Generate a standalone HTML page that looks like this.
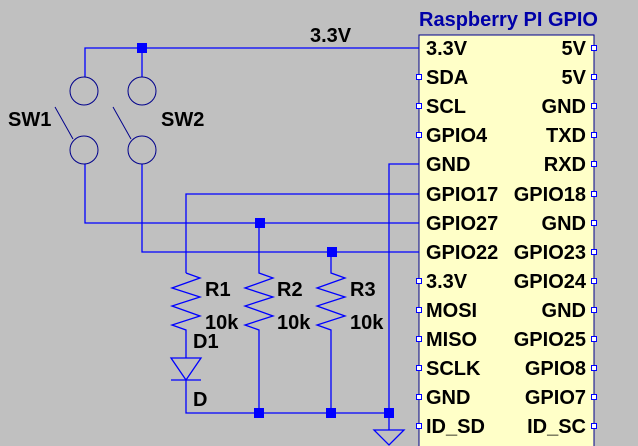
<!DOCTYPE html>
<html><head><style>html,body{margin:0;padding:0;background:#c0c0c0}svg{display:block}text{font-family:"Liberation Sans",Arial,sans-serif;font-weight:bold;font-size:20px;fill:#000}</style></head>
<body>
<svg width="638" height="446" xmlns="http://www.w3.org/2000/svg">
<rect width="638" height="446" fill="#c0c0c0"/>
<rect x="419" y="35" width="175" height="420" fill="#ffffc8" stroke="#00008b" stroke-width="1"/>
<text x="419" y="26" style="fill:#0000a8">Raspberry PI GPIO</text>
<g fill="none" stroke="#0000ff" stroke-width="1.3">
<polyline points="85,77 85,48 419,48"/>
<line x1="142" y1="48" x2="142" y2="77"/>
<polyline points="85,164 85,223 419,223"/>
<polyline points="142,164 142,252 419,252"/>
<polyline points="186,273 186,194 419,194"/>
<polyline points="389,430 389,164 419,164"/>
<polyline points="186,273 200,278 172,288 200,297 172,306 200,316 172,325 186,330 186,358"/>
<polyline points="259,223 259,273 273,278 245,288 273,297 245,306 273,316 245,325 259,330 259,413"/>
<polyline points="331,252 331,273 345,278 317,288 345,297 317,306 345,316 317,325 331,330 331,413"/>
<polygon points="171,358 201,358 186,380"/>
<line x1="171" y1="380" x2="201" y2="380"/>
<polyline points="186,380 186,413 389,413"/>
<polygon points="374,430 404,430 389,445"/>
</g>
<g fill="none" stroke="#00008b" stroke-width="1">
<circle cx="84" cy="91" r="14"/><circle cx="84" cy="150" r="14"/>
<circle cx="142" cy="91" r="14"/><circle cx="142" cy="150" r="14"/>
<line x1="55" y1="107" x2="73" y2="139"/><line x1="113" y1="107" x2="131" y2="139"/>
</g>
<g fill="#0000ff">
<rect x="137" y="43" width="10" height="10"/><rect x="255" y="218" width="10" height="10"/>
<rect x="327" y="247" width="10" height="10"/><rect x="254" y="408" width="10" height="10"/>
<rect x="326" y="408" width="10" height="10"/><rect x="384" y="408" width="10" height="10"/>
</g>
<g fill="#fff" stroke="#0000ff" stroke-width="1">
<rect x="591.5" y="45.5" width="5" height="5"/><rect x="591.5" y="74.5" width="5" height="5"/><rect x="591.5" y="103.5" width="5" height="5"/><rect x="591.5" y="132.5" width="5" height="5"/><rect x="591.5" y="161.5" width="5" height="5"/><rect x="591.5" y="191.5" width="5" height="5"/><rect x="591.5" y="220.5" width="5" height="5"/><rect x="591.5" y="249.5" width="5" height="5"/><rect x="591.5" y="278.5" width="5" height="5"/><rect x="591.5" y="307.5" width="5" height="5"/><rect x="591.5" y="336.5" width="5" height="5"/><rect x="591.5" y="365.5" width="5" height="5"/><rect x="591.5" y="394.5" width="5" height="5"/><rect x="591.5" y="423.5" width="5" height="5"/>
<rect x="416.5" y="74.5" width="5" height="5"/><rect x="416.5" y="103.5" width="5" height="5"/><rect x="416.5" y="132.5" width="5" height="5"/><rect x="416.5" y="278.5" width="5" height="5"/><rect x="416.5" y="307.5" width="5" height="5"/><rect x="416.5" y="336.5" width="5" height="5"/><rect x="416.5" y="365.5" width="5" height="5"/><rect x="416.5" y="394.5" width="5" height="5"/><rect x="416.5" y="423.5" width="5" height="5"/>
</g>
<text x="310" y="42">3.3V</text>
<text x="8" y="126">SW1</text><text x="161" y="126">SW2</text>
<text x="205" y="296">R1</text><text x="205" y="329">10k</text>
<text x="277" y="296">R2</text><text x="277" y="329">10k</text>
<text x="350" y="296">R3</text><text x="350" y="329">10k</text>
<text x="193" y="348">D1</text><text x="193" y="406">D</text>
<g>
<text x="426" y="55">3.3V</text><text x="426" y="84">SDA</text><text x="426" y="113">SCL</text><text x="426" y="142">GPIO4</text><text x="426" y="171">GND</text><text x="426" y="201">GPIO17</text><text x="426" y="230">GPIO27</text><text x="426" y="259">GPIO22</text><text x="426" y="288">3.3V</text><text x="426" y="317">MOSI</text><text x="426" y="346">MISO</text><text x="426" y="375">SCLK</text><text x="426" y="404">GND</text><text x="426" y="433">ID_SD</text>
</g>
<g text-anchor="end">
<text x="586" y="55">5V</text><text x="586" y="84">5V</text><text x="586" y="113">GND</text><text x="586" y="142">TXD</text><text x="586" y="171">RXD</text><text x="586" y="201">GPIO18</text><text x="586" y="230">GND</text><text x="586" y="259">GPIO23</text><text x="586" y="288">GPIO24</text><text x="586" y="317">GND</text><text x="586" y="346">GPIO25</text><text x="586" y="375">GPIO8</text><text x="586" y="404">GPIO7</text><text x="586" y="433">ID_SC</text>
</g>
</svg>
</body></html>
